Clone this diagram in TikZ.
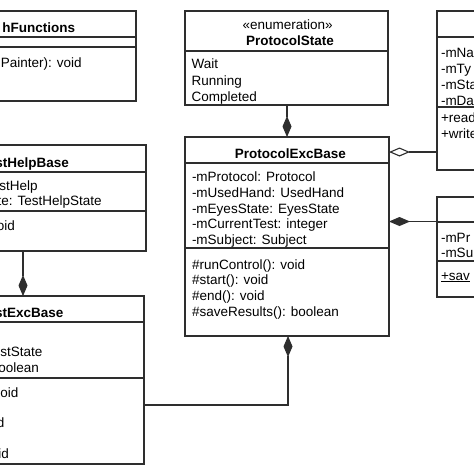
\documentclass[tikz,border=0pt]{standalone}
\usepackage{fontspec}
\setmainfont{Liberation Sans}
\usetikzlibrary{arrows.meta}
\definecolor{linec}{HTML}{2E2E2E}
\begin{document}
\begin{tikzpicture}[x=1pt,y=-1pt,
  box/.style={draw=linec, line width=1.1pt, inner sep=0pt, outer sep=0pt, anchor=north west},
  sep/.style={draw=linec, line width=1.1pt},
  txt/.style={inner sep=0pt, outer sep=0pt, font=\fontsize{13.5}{16}\selectfont, anchor=base west, text=black},
  txr/.style={txt, anchor=base east},
  hdr/.style={txt, font=\fontsize{13.5}{16}\selectfont\bfseries, anchor=base},
  hdr r/.style={hdr, anchor=base east},
  comp/.style={draw=linec, line width=1.1pt, -{Diamond[length=21pt,width=9pt,fill=linec]}},
  aggr/.style={draw=linec, line width=1.1pt, -{Diamond[open,length=21pt,width=9pt,fill=white]}}]
\useasboundingbox (0,0) rectangle (474,474);
\clip (0,0) rectangle (474,474);
\fill[white] (0,0) rectangle (474,474);

% boxes
\node[box, minimum width=146pt, minimum height=90pt] (A) at (-10,11) {};
\node[box, minimum width=203pt, minimum height=94pt] (B) at (185,11) {};
\node[box, minimum width=204pt, minimum height=199pt] (C) at (185,137) {};
\node[box, minimum width=60pt, minimum height=159pt] (D) at (437,11) {};
\node[box, minimum width=60pt, minimum height=100pt] (E) at (437,197) {};
\node[box, minimum width=156pt, minimum height=106pt] (F) at (-10,145) {};
\node[box, minimum width=154pt, minimum height=168pt] (G) at (-10,296) {};

% separators
\draw[sep] (A.west |- 0,37) -- (A.east |- 0,37);
\draw[sep] (A.west |- 0,47) -- (A.east |- 0,47);
\draw[sep] (B.west |- 0,51) -- (B.east |- 0,51);
\draw[sep] (C.west |- 0,163) -- (C.east |- 0,163);
\draw[sep] (C.west |- 0,248) -- (C.east |- 0,248);
\draw[sep] (D.west |- 0,37) -- (D.east |- 0,37);
\draw[sep] (D.west |- 0,107) -- (D.east |- 0,107);
\draw[sep] (E.west |- 0,222) -- (E.east |- 0,222);
\draw[sep] (E.west |- 0,261) -- (E.east |- 0,261);
\draw[sep] (F.west |- 0,172) -- (F.east |- 0,172);
\draw[sep] (F.west |- 0,211) -- (F.east |- 0,211);
\draw[sep] (G.west |- 0,322) -- (G.east |- 0,322);
\draw[sep] (G.west |- 0,378) -- (G.east |- 0,378);

% connectors
\draw[comp] (B.south -| 287,0) -- (C.north -| 287,0);
\draw[aggr] (D.west |- 0,152) -- (C.east |- 0,152);
\draw[comp] (E.west |- 0,221.5) -- (C.east |- 0,221.5);
\draw[comp] (F.south -| 23,0) -- (G.north -| 23,0);
\draw[comp] (G.east |- 0,405) -| (C.south -| 288,0);

% box A texts
\node[hdr r] (a1) at (75,32) {hFunctions};
\node[txr] (a2) at (81.7,67) {Painter): void};

% box B texts
\node[txt, anchor=base] (b0) at (287.7,29) {«enumeration»};
\node[hdr] (b1) at (290,45) {ProtocolState};
\node[txt] (b2) at (191.7,68.5) {Wait};
\node[txt] (b3) at (191.7,85) {Running};
\node[txt] (b4) at (191.7,101) {Completed};

% box C texts
\node[hdr] (c0) at (290.3,158) {ProtocolExcBase};
\node[txt] (c1) at (192,181.5) {-mProtocol: Protocol};
\node[txt] (c2) at (192,197.3) {-mUsedHand: UsedHand};
\node[txt] (c3) at (192,213.1) {-mEyesState: EyesState};
\node[txt] (c4) at (192,228.9) {-mCurrentTest: integer};
\node[txt] (c5) at (192,244.7) {-mSubject: Subject};
\node[txt] (c6) at (192,269) {\#runControl(): void};
\node[txt] (c7) at (192,284.8) {\#start(): void};
\node[txt] (c8) at (192,300.6) {\#end(): void};
\node[txt] (c9) at (192,316.4) {\#saveResults(): boolean};

% box D texts
\node[txt] (d1) at (441,57) {-mNa};
\node[txt] (d2) at (441,73) {-mTy};
\node[txt] (d3) at (441,89) {-mSta};
\node[txt] (d4) at (441,105) {-mDa};
\node[txt] (d5) at (441,122) {+read};
\node[txt] (d6) at (441,138) {+write};

% box E texts
\node[txt] (e1) at (441,242) {-mPr};
\node[txt] (e2) at (441,257) {-mSu};
\node[txt] (e3) at (441,280) {\underline{+sav}};

% box F texts
\node[hdr r] (f0) at (69,167) {stHelpBase};
\node[txr] (f1) at (37.7,190) {stHelp};
\node[txr] (f2) at (101.7,205) {te: TestHelpState};
\node[txr] (f3) at (15,230) {oid};

% box G texts
\node[hdr r] (g0) at (63.3,317) {stExcBase};
\node[txr] (g1) at (42.3,356.5) {stState};
\node[txr] (g2) at (39,372.5) {oolean};
\node[txr] (g3) at (18.3,397.5) {oid};
\node[txr] (g4) at (4.3,427.5) {d};
\node[txr] (g5) at (9,458) {id};
\end{tikzpicture}
\end{document}
